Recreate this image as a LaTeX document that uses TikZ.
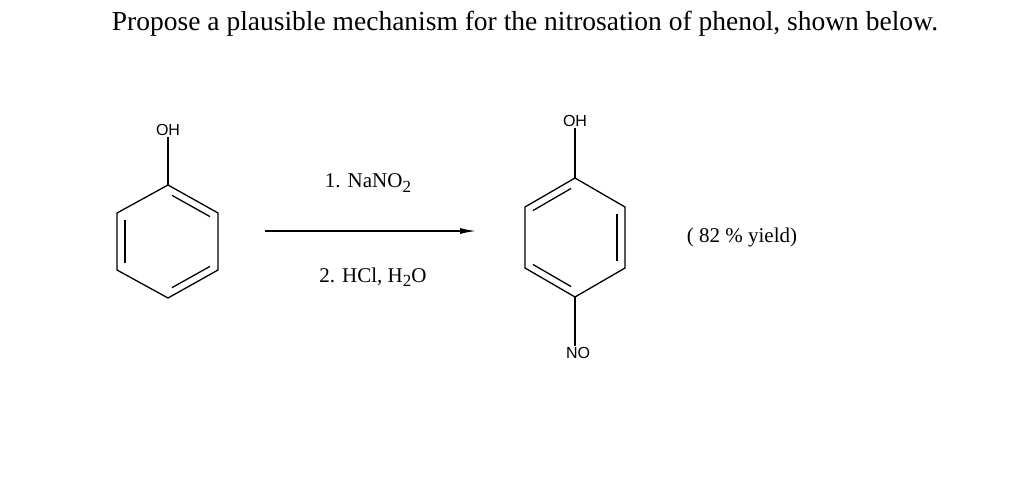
\documentclass[tikz,border=0pt]{standalone}
\usepackage{fontspec}
\setmainfont{Liberation Serif}
\newfontfamily\lab{Liberation Sans}
\usetikzlibrary{arrows.meta,calc}
\begin{document}
\begin{tikzpicture}[x=1pt,y=-1pt,bond/.style={line width=1.3pt},
  atom/.style={font=\lab\fontsize{16}{16}\selectfont,inner sep=1pt},
  txt/.style={font=\fontsize{21}{23}\selectfont,inner sep=0pt}]
\useasboundingbox (0,0) rectangle (1024,480);
\node[font=\fontsize{27.5}{30}\selectfont] (title) at (525,24) {Propose a plausible mechanism for the nitrosation of phenol, shown below.};
% left phenol
\coordinate (a1) at (168,185); \coordinate (a2) at (218,213); \coordinate (a3) at (218,270);
\coordinate (a4) at (168,298); \coordinate (a5) at (117,270); \coordinate (a6) at (117,213);
\draw[bond] (a1)--(a2)--(a3)--(a4)--(a5)--(a6)--cycle;
\draw[bond] ($(a1)!0.12!(a2)+(-2,7)$) -- ($(a1)!0.88!(a2)+(-2,7)$);
\draw[bond] (125,220) -- (125,263);
\draw[bond] ($(a3)!0.12!(a4)+(-2,-7)$) -- ($(a3)!0.88!(a4)+(-2,-7)$);
\node[atom] (oh1) at (168,130) {OH};
\draw[bond] (a1) -- (oh1.south);
% product
\coordinate (b1) at (575,178); \coordinate (b2) at (625,207); \coordinate (b3) at (625,268);
\coordinate (b4) at (575,297); \coordinate (b5) at (525,268); \coordinate (b6) at (525,207);
\draw[bond] (b1)--(b2)--(b3)--(b4)--(b5)--(b6)--cycle;
\draw[bond] ($(b6)!0.12!(b1)+(2,7)$) -- ($(b6)!0.88!(b1)+(2,7)$);
\draw[bond] (617,214) -- (617,261);
\draw[bond] ($(b4)!0.12!(b5)+(2,-7)$) -- ($(b4)!0.88!(b5)+(2,-7)$);
\node[atom] (oh2) at (575,121) {OH};
\node[atom] (no) at (578,353) {NO};
\draw[bond] (b1) -- (oh2.south);
\draw[bond] (b4) -- (no.north -| b4);
% arrow
\coordinate (s) at (265,231); \coordinate (e) at (476,231);
\draw[line width=1.3pt,-{Latex[length=16pt,width=6pt]}] (s) -- (e);
\node[txt] (r1) at (368,183) {1. NaNO\raisebox{-0.45ex}{\fontsize{17}{17}\selectfont 2}};
\node[txt] (r2) at (373,277) {2. HCl, H\raisebox{-0.45ex}{\fontsize{17}{17}\selectfont 2}O};
\node[txt] (y) at (742,237) {( 82 \% yield)};
\end{tikzpicture}
\end{document}
